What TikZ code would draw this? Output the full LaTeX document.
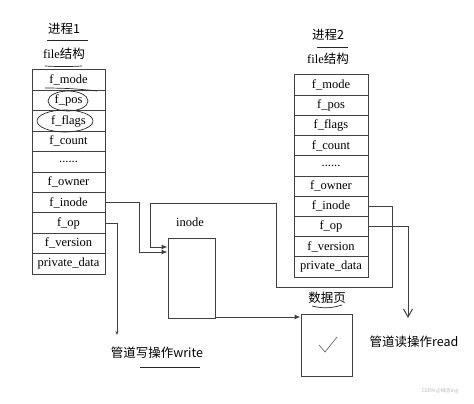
\documentclass[tikz,border=0pt]{standalone}
\usepackage{fontspec}
\setmainfont{Liberation Serif}
\newfontfamily\cjk{Noto Sans CJK SC}
\newfontfamily\sanscjk{Noto Sans CJK SC}
\usetikzlibrary{arrows.meta}
\newcommand\rowdots{......}
\newcommand\labelsize{\fontsize{12.5}{12.5}\selectfont}

\begin{document}
\begin{tikzpicture}[x=1pt,y=-1pt,
    line width=1pt,
    cell/.style={draw=black!75,minimum width=73pt,minimum height=20.4pt,inner sep=0pt,font=\labelsize},
    wire/.style={draw=black!75,line width=1pt},
    hand/.style={draw=black!85,line width=0.7pt}]
  \useasboundingbox (0,0) rectangle (474,404);

  % left file structure
  \draw (64,29)node[font=\cjk\labelsize]{进程1};
  \draw (64,54)node[font=\labelsize]{file{\cjk 结构}};
  \foreach \t [count=\i] in {f\_mode,f\_pos,f\_flags,f\_count,\rowdots,f\_owner,f\_inode,f\_op,f\_version,private\_data}
    \node[cell] (L\i) at (68.5,{70+10.2+20.4*(\i-1)}) {\t};

  % right file structure
  \draw (328,35)node[font=\cjk\labelsize]{进程2};
  \draw (328,59)node[font=\labelsize]{file{\cjk 结构}};
  \foreach \t [count=\i] in {f\_mode,f\_pos,f\_flags,f\_count,\rowdots,f\_owner,f\_inode,f\_op,f\_version,private\_data}
    \node[cell,minimum height=20.2pt,minimum width=74pt] (R\i) at (331,{75+10.1+20.2*(\i-1)}) {\t};

  % inode and data page
  \node[draw=black!75,minimum width=47pt,minimum height=80pt,inner sep=0pt] (inode) at (191.5,278) {};
  \draw (190,222)node[font=\labelsize]{inode};
  \node[draw=black!75,minimum width=51pt,minimum height=62pt,inner sep=0pt] (page) at (326.5,345) {};
  \draw (327,298)node[font=\cjk\labelsize]{数据页};
  \draw[black!60,line width=0.7pt] (319,345)--(325,352)--(337,337);

  % connectors
  \draw[wire,-{Latex[length=6pt,width=5pt]}] (L7.east) -| (139,252) -- (inode.west |- 0,252);
  \draw[wire,-{Latex[length=6pt,width=5pt]}] (R7.east) -| (392,287) -| (276,203) -| (150,247) -- (inode.west |- 0,247);
  \draw[wire,-{Latex[length=6pt,width=5pt]}] (inode.south east |- 0,317) -- (page.west |- 0,317);
  \draw[wire,-{Stealth[length=4pt,width=3pt]}] (L8.east) -| (117,335);
  \draw[wire,-{Straight Barb[length=8pt,width=9pt]}] (R8.east) -| (408,318);

  \draw (157,353)node[font=\cjk\labelsize]{管道写操作write};
  \draw (414,342)node[font=\sanscjk\labelsize]{管道读操作read};
  \draw (440,391)node[font=\sanscjk\fontsize{5}{5}\selectfont,text=black!30]{CSDN @线念ing};

  % hand marks
  \draw[hand] (47,40)--(88,40);
  \draw[hand] (45,66) to[bend right=3] (82,66);
  \draw[hand] (317,47)--(348,47);
  \draw[hand] (45,88) to[bend left=3] (97,91);
  \draw[hand] (68,101) ellipse[x radius=20,y radius=10];
  \draw[hand] (65,121) ellipse[x radius=28,y radius=11];
  \draw[hand] (140,367)--(200,367);
  \draw[hand] (312,306) to[bend right=15] (342,305);
\end{tikzpicture}
\end{document}
